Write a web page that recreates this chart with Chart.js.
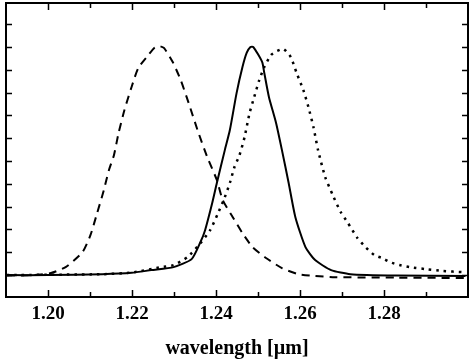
<!DOCTYPE html>
<html>
<head>
<meta charset="utf-8">
<script src="https://cdn.jsdelivr.net/npm/chart.js@4/dist/chart.umd.min.js"></script>
<style>
  html, body { margin: 0; padding: 0; background: #fff; }
</style>
</head>
<body>
<canvas id="c" width="474" height="361"></canvas>
<script>
// wavelength in um, normalized intensity
const solidX = [1.1902, 1.2000, 1.2129, 1.2199, 1.2246, 1.2299, 1.2342, 1.2363, 1.2374, 1.2391, 1.2402, 1.2421, 1.2433, 1.2449, 1.2463, 1.2473, 1.2482, 1.2489, 1.2510, 1.2515, 1.2526, 1.2543, 1.2557, 1.2573, 1.2589, 1.2613, 1.2636, 1.2674, 1.2720, 1.2830, 1.2994];
const solidY = [0, 0, 0.04, 0.1, 0.22, 0.35, 0.7, 1.45, 1.97, 3.16, 4.04, 5.48, 6.36, 7.98, 9.12, 9.74, 10.0, 10.0, 9.34, 8.86, 7.81, 6.67, 5.48, 4.04, 2.54, 1.23, 0.66, 0.22, 0.04, -0.02, -0.04];

const dashedX = [1.1902, 1.1965, 1.2007, 1.2042, 1.2082, 1.2101, 1.2117, 1.2133, 1.2145, 1.2157, 1.2168, 1.2182, 1.2199, 1.2215, 1.2239, 1.2253, 1.2264, 1.2276, 1.2297, 1.2316, 1.2335, 1.2356, 1.2379, 1.2402, 1.2416, 1.2440, 1.2463, 1.2487, 1.2519, 1.2557, 1.2596, 1.2636, 1.2683, 1.2830, 1.2994];
const dashedY = [-0.02, 0, 0.09, 0.35, 1.0, 1.75, 2.72, 3.73, 4.6, 5.26, 6.23, 7.24, 8.25, 9.08, 9.65, 9.96, 10.04, 9.96, 9.34, 8.55, 7.54, 6.36, 5.18, 4.17, 3.29, 2.54, 1.84, 1.23, 0.75, 0.31, 0.04, -0.04, -0.09, -0.11, -0.13];

const dottedX = [1.1902, 1.2129, 1.2199, 1.2269, 1.2299, 1.2332, 1.2363, 1.2386, 1.2405, 1.2421, 1.2433, 1.2444, 1.2456, 1.2468, 1.2480, 1.2491, 1.2503, 1.2515, 1.2531, 1.2545, 1.2561, 1.2578, 1.2592, 1.2608, 1.2620, 1.2632, 1.2643, 1.2660, 1.2678, 1.2697, 1.2713, 1.2737, 1.2756, 1.2777, 1.2795, 1.2814, 1.2837, 1.2861, 1.2901, 1.2940, 1.2987];
const dottedY = [0, 0.04, 0.11, 0.35, 0.44, 0.79, 1.40, 1.97, 2.72, 3.42, 4.04, 4.74, 5.26, 6.05, 7.11, 7.81, 8.55, 9.12, 9.65, 9.82, 9.91, 9.56, 8.86, 8.11, 7.37, 6.49, 5.48, 4.30, 3.51, 2.76, 2.32, 1.62, 1.23, 0.88, 0.75, 0.57, 0.44, 0.35, 0.26, 0.18, 0.13];

const xLabels = ["1.20", "1.22", "1.24", "1.26", "1.28"];
const xTitle = "wavelength [\u00b5m]";

const pts = (xs, ys) => xs.map((x, i) => ({ x: x, y: ys[i] }));

// inward ticks on all four sides plus the frame
const frame = {
    id: "frame",
    afterDatasetsDraw(chart) {
        const { ctx, chartArea: a, scales } = chart;
        const xs = scales.x, ys = scales.y;
        ctx.save();
        ctx.strokeStyle = "#000";
        ctx.lineWidth = 1.5;
        ctx.beginPath();
        for (let i = 0; i <= 11; i++) {
            const v = 1.19 + i * 0.01;
            const px = Math.round(xs.getPixelForValue(v)) + 0.5;
            if (px <= a.left + 2 || px >= a.right - 2) continue;
            const len = i % 2 ? 7 : 5;
            ctx.moveTo(px, a.bottom); ctx.lineTo(px, a.bottom - len);
            ctx.moveTo(px, a.top); ctx.lineTo(px, a.top + len);
        }
        for (let v = -1; v <= 12; v++) {
            const py = Math.round(ys.getPixelForValue(v)) + 0.5;
            if (py <= a.top + 2 || py >= a.bottom - 2) continue;
            ctx.moveTo(a.left, py); ctx.lineTo(a.left + 6, py);
            ctx.moveTo(a.right, py); ctx.lineTo(a.right - 6, py);
        }
        ctx.stroke();
        ctx.lineWidth = 2;
        ctx.strokeRect(a.left, a.top, a.right - a.left, a.bottom - a.top);
        ctx.restore();
    }
};

new Chart(document.getElementById("c"), {
    type: "line",
    data: {
        datasets: [
            { label: "solid", data: pts(solidX, solidY), borderColor: "#000", borderWidth: 2, pointRadius: 0, tension: 0.2 },
            { label: "dashed", data: pts(dashedX, dashedY), borderColor: "#000", borderWidth: 2, borderDash: [8, 6], pointRadius: 0, tension: 0.2 },
            { label: "dotted", data: pts(dottedX, dottedY), borderColor: "#000", borderWidth: 2.5, borderDash: [2.5, 5], pointRadius: 0, tension: 0.2 }
        ]
    },
    options: {
        responsive: false,
        animation: false,
        layout: { padding: { left: 3, right: 4, top: 3, bottom: 0 } },
        plugins: { legend: { display: false }, tooltip: { enabled: false } },
        scales: {
            x: {
                type: "linear",
                min: 1.19,
                max: 1.30,
                afterFit(s) { s.height = 64; },
                grid: { display: false, drawTicks: false },
                border: { display: false },
                ticks: {
                    stepSize: 0.01,
                    autoSkip: false,
                    maxRotation: 0,
                    padding: 6,
                    color: "#000",
                    font: { family: "Liberation Serif", size: 19, weight: "bold" },
                    callback: (v) => {
                        const s = v.toFixed(2);
                        return xLabels.includes(s) ? s : "";
                    }
                },
                title: {
                    display: true,
                    text: xTitle,
                    color: "#000",
                    font: { family: "Liberation Serif", size: 20, weight: "bold" },
                    padding: { top: 0, bottom: 0 }
                }
            },
            y: {
                display: false,
                min: -0.96,
                max: 11.93
            }
        }
    },
    plugins: [frame]
});
</script>
</body>
</html>
